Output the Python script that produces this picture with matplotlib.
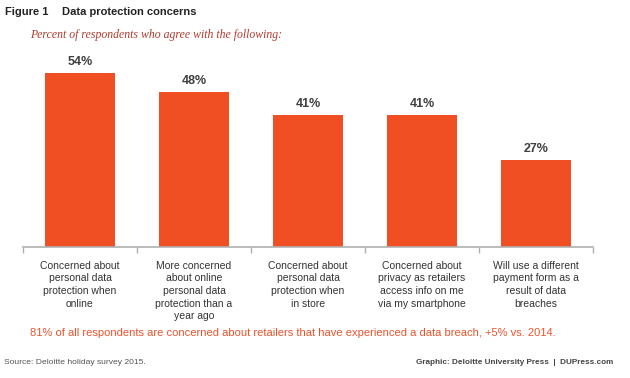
import matplotlib
matplotlib.use("Agg")
import matplotlib.pyplot as plt

categories = [
    "Concerned about\npersonal data\nprotection when\nonline",
    "More concerned\nabout online\npersonal data\nprotection than a\nyear ago",
    "Concerned about\npersonal data\nprotection when\nin store",
    "Concerned about\nprivacy as retailers\naccess info on me\nvia my smartphone",
    "Will use a different\npayment form as a\nresult of data\nbreaches",
]
values = [54, 48, 41, 41, 27]

FONT = "Liberation Sans"
BAR = "#F04E23"
W, H = 630, 378
fig = plt.figure(figsize=(W/100, H/100), dpi=100)
fig.patch.set_facecolor("white")

px_per = (247 - 73) / 54.0
left, right = 23 / W, 593 / W
bottom = 1 - 247 / H
top = 1 - 40 / H
ax = fig.add_axes([left, bottom, right - left, top - bottom])
x = list(range(len(values)))
ax.bar(x, values, width=0.614, color=BAR, zorder=2)
ax.set_xlim(-0.5, len(values) - 0.5)
ax.set_ylim(0, (247 - 40) / px_per)
for s in ["top", "right", "left"]:
    ax.spines[s].set_visible(False)
ax.spines["bottom"].set_color("#b0b0b0")
ax.spines["bottom"].set_linewidth(1.2)
ax.set_yticks([])
ax.set_xticks([i - 0.5 for i in range(len(values) + 1)])
ax.set_xticklabels([])
ax.tick_params(axis="x", length=4, color="#b0b0b0", width=1, direction="out")

for i, v in enumerate(values):
    ax.text(i, v + 1.6, f"{v}%", ha="center", va="bottom", fontsize=9,
            fontweight="bold", color="#404040", family=FONT)
    ax.text(i, -4.3, categories[i], ha="center", va="top", fontsize=7.5,
            color="#333333", family=FONT, linespacing=1.33)

fig.text(5 / W, 1 - 12 / H, "Figure 1", fontsize=8, fontweight="bold",
         color="#222222", family=FONT, va="center")
fig.text(62 / W, 1 - 12 / H, "Data protection concerns", fontsize=8, fontweight="bold",
         color="#222222", family=FONT, va="center")
fig.text(30 / W, 1 - 35 / H, "Percent of respondents who agree with the following:",
         fontsize=8.5, style="italic", color="#B03A2E", family="Liberation Serif", va="center")
fig.text(30 / W, 1 - 333 / H,
         "81% of all respondents are concerned about retailers that have experienced a data breach, +5% vs. 2014.",
         fontsize=8.0, color="#E9532B", family=FONT, va="center")
fig.text(4 / W, 1 - 362 / H, "Source: Deloitte holiday survey 2015.", fontsize=6.1,
         color="#555555", family=FONT, va="center")
fig.text(613 / W, 1 - 362 / H, "Graphic: Deloitte University Press  |  DUPress.com",
         fontsize=5.85, fontweight="bold", color="#444444", family=FONT,
         va="center", ha="right")

fig.savefig("out.png", dpi=100)
